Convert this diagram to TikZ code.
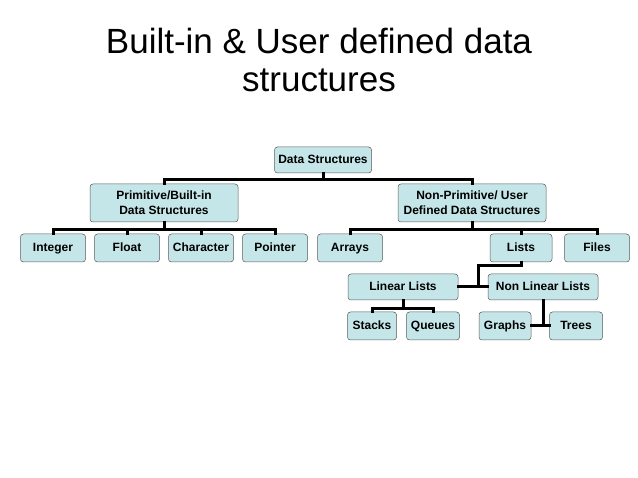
\documentclass[tikz,border=0pt]{standalone}
\usepackage{fontspec}
\setmainfont{Liberation Sans}
\begin{document}
\begin{tikzpicture}[x=1pt,y=-1pt,
  box/.style={draw=gray!70!black,fill=boxfill,rounded corners=3pt,line width=0.5pt,font=\bfseries\fontsize{12}{15}\selectfont,align=center,inner sep=0pt,text height=9pt,text depth=2.5pt},
  con/.style={line width=3pt,line cap=rect}]
\definecolor{boxfill}{RGB}{197,230,232}
\useasboundingbox (0,0) rectangle (638,478);
\node[font=\fontsize{35}{38}\selectfont,align=center] (title) at (319,60) {Built-in \& User defined data\\structures};
\node[box,minimum width=97,minimum height=26] (ds) at (323,160) {Data Structures};
\node[box,minimum width=148,minimum height=38,text height=,text depth=] (pr) at (164,203) {Primitive/Built-in\\Data Structures};
\node[box,minimum width=148,minimum height=38,text height=,text depth=] (np) at (472,203) {Non-Primitive/ User\\Defined Data Structures};
\foreach \n/\t/\x in {int/Integer/53,flo/Float/127,cha/Character/201,poi/Pointer/275,arr/Arrays/350,fil/Files/597}
  \node[box,minimum width=65,minimum height=28] (\n) at (\x,248) {\t};
\node[box,minimum width=62,minimum height=28] (lis) at (521,248) {Lists};
\node[box,minimum width=110,minimum height=26] (ll) at (403,287) {Linear Lists};
\node[box,minimum width=110,minimum height=26] (nl) at (543,287) {Non Linear Lists};
\node[box,minimum width=49,minimum height=28] (sta) at (372,326) {Stacks};
\node[box,minimum width=53,minimum height=28] (que) at (433,326) {Queues};
\node[box,minimum width=52,minimum height=28] (gra) at (505,326) {Graphs};
\node[box,minimum width=53,minimum height=28] (tre) at (576,326) {Trees};
\coordinate (b1) at (323,180);
\draw[con] (ds.south) |- (b1) -| (pr.north);
\draw[con] (b1) -| (np.north);
\coordinate (b2) at (164,230);
\draw[con] (pr.south) -- (b2);
\foreach \n in {int,poi,flo,cha} \draw[con] (b2) -| (\n.north);
\coordinate (b3) at (472,230);
\draw[con] (np.south) -- (b3);
\foreach \n in {arr,lis,fil} \draw[con] (b3) -| (\n.north);
\coordinate (b4) at (521,266);
\coordinate (b5) at (478,287);
\draw[con] (lis.south) -- (b4) -| (b5);
\draw[con] (ll.east) -- (nl.west);
\coordinate (b6) at (403,309);
\draw[con] (ll.south) -- (b6);
\foreach \n in {sta,que} \draw[con] (b6) -| (\n.north);
\coordinate (b7) at (543,326);
\draw[con] (nl.south) -- (b7);
\draw[con] (gra.east) -- (tre.west);
\end{tikzpicture}
\end{document}
